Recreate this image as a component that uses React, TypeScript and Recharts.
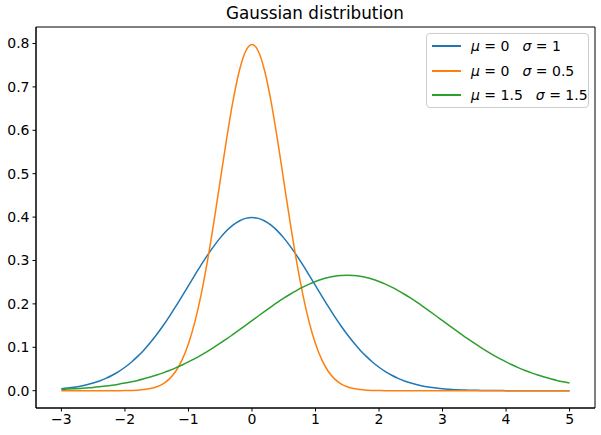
import { LineChart, Line, XAxis, YAxis, ReferenceArea } from "recharts";

// sample grid, every 0.1 from -3 to 5
const xs = Array.from({ length: 81 }, (_, i) => Math.round((-3 + i * 0.1) * 10) / 10);

// mu = 0, sigma = 1
const standard = [
  0.0044, 0.0060, 0.0079, 0.0104, 0.0136, 0.0175, 0.0224, 0.0283, 0.0355, 0.0440,
  0.0540, 0.0656, 0.0790, 0.0940, 0.1109, 0.1295, 0.1497, 0.1714, 0.1942, 0.2179,
  0.2420, 0.2661, 0.2897, 0.3123, 0.3332, 0.3521, 0.3683, 0.3814, 0.3910, 0.3970,
  0.3989,
  0.3970, 0.3910, 0.3814, 0.3683, 0.3521, 0.3332, 0.3123, 0.2897, 0.2661, 0.2420,
  0.2179, 0.1942, 0.1714, 0.1497, 0.1295, 0.1109, 0.0940, 0.0790, 0.0656, 0.0540,
  0.0440, 0.0355, 0.0283, 0.0224, 0.0175, 0.0136, 0.0104, 0.0079, 0.0060, 0.0044,
  0.0033, 0.0024, 0.0017, 0.0012, 0.0009, 0.0006, 0.0004, 0.0003, 0.0002, 0.0001,
  0.0001, 0.0001, 0, 0, 0, 0, 0, 0, 0, 0,
];

// mu = 0, sigma = 0.5
const narrow = [
  0, 0, 0, 0, 0, 0, 0, 0, 0, 0.0001,
  0.0003, 0.0006, 0.0012, 0.0025, 0.0048, 0.0089, 0.0158, 0.0272, 0.0448, 0.0709,
  0.1080, 0.1579, 0.2218, 0.2995, 0.3884, 0.4839, 0.5794, 0.6664, 0.7365, 0.7821,
  0.7979,
  0.7821, 0.7365, 0.6664, 0.5794, 0.4839, 0.3884, 0.2995, 0.2218, 0.1579, 0.1080,
  0.0709, 0.0448, 0.0272, 0.0158, 0.0089, 0.0048, 0.0025, 0.0012, 0.0006, 0.0003,
  0.0001, 0.0001, 0, 0, 0, 0, 0, 0, 0, 0,
  0, 0, 0, 0, 0, 0, 0, 0, 0, 0,
  0, 0, 0, 0, 0, 0, 0, 0, 0, 0,
];

// mu = 1.5, sigma = 1.5
const shifted = [
  0.0030, 0.0036, 0.0044, 0.0053, 0.0064, 0.0076, 0.0091, 0.0107, 0.0127, 0.0149,
  0.0175, 0.0204, 0.0236, 0.0273, 0.0314, 0.0360, 0.0410, 0.0466, 0.0526, 0.0592,
  0.0663, 0.0739, 0.0821, 0.0907, 0.0998, 0.1093, 0.1192, 0.1295, 0.1399, 0.1506,
  0.1613, 0.1721, 0.1827, 0.1931, 0.2033, 0.2130, 0.2222, 0.2307, 0.2385, 0.2455,
  0.2516, 0.2567, 0.2607, 0.2636, 0.2654, 0.2660, 0.2654, 0.2636, 0.2607, 0.2567,
  0.2516, 0.2455, 0.2385, 0.2307, 0.2222, 0.2130, 0.2033, 0.1931, 0.1827, 0.1721,
  0.1613, 0.1506, 0.1399, 0.1295, 0.1192, 0.1093, 0.0998, 0.0907, 0.0821, 0.0739,
  0.0663, 0.0592, 0.0526, 0.0466, 0.0410, 0.0360, 0.0314, 0.0273, 0.0236, 0.0204,
  0.0175,
];

const xTicks = [-3, -2, -1, 0, 1, 2, 3, 4, 5];
const yTicks = [0, 0.1, 0.2, 0.3, 0.4, 0.5, 0.6, 0.7, 0.8];
const xDomain = [-3.4, 5.4];
const yDomain = [-0.0399, 0.838];

const series = [
  { key: "standard", color: "#1f77b4", mu: "0", sigma: "1" },
  { key: "narrow", color: "#ff7f0e", mu: "0", sigma: "0.5" },
  { key: "shifted", color: "#2ca02c", mu: "1.5", sigma: "1.5" },
];

const data = xs.map((x, i) => ({
  x,
  standard: standard[i],
  narrow: narrow[i],
  shifted: shifted[i],
}));

const font = "'DejaVu Sans', sans-serif";
const tickStyle = { fill: "#000", fontSize: 14, fontFamily: font };
const fmtX = (v: number) => (v < 0 ? "\u2212" + Math.abs(v) : String(v));

function LegendBox() {
  return (
    <div
      style={{
        position: "absolute",
        left: 426,
        top: 33,
        width: 161,
        height: 73,
        border: "1px solid #cccccc",
        borderRadius: 4,
        background: "rgba(255,255,255,0.8)",
        fontFamily: font,
        fontSize: 14,
        color: "#000",
      }}
    >
      {series.map((s, i) => (
        <div
          key={s.key}
          style={{ position: "absolute", left: 5, top: 3 + i * 24.5, height: 18, display: "flex", alignItems: "center" }}
        >
          <span style={{ display: "inline-block", width: 29, height: 2, background: s.color, marginRight: 10 }} />
          <span style={{ whiteSpace: "pre" }}>
            <i>μ</i>
            {" = " + s.mu}
            <span style={{ display: "inline-block", width: 13 }} />
            <i>σ</i>
            {" = " + s.sigma}
          </span>
        </div>
      ))}
    </div>
  );
}

export default function App() {
  return (
    <div style={{ position: "absolute", left: 0, top: 0, width: 601, height: 435, background: "#fff" }}>
      <div
        style={{
          position: "absolute",
          left: 35,
          width: 560,
          top: 3,
          textAlign: "center",
          fontFamily: font,
          fontSize: 16.8,
          color: "#000",
        }}
      >
        Gaussian distribution
      </div>
      <LineChart width={601} height={435} data={data} margin={{ top: 27, right: 6, bottom: 0, left: 0 }}>
        <XAxis
          dataKey="x"
          type="number"
          domain={xDomain}
          ticks={xTicks}
          interval={0}
          allowDataOverflow
          tickFormatter={fmtX}
          tick={tickStyle}
          tickSize={3.5}
          tickMargin={3}
          height={27}
          stroke="#000"
        />
        <YAxis
          type="number"
          domain={yDomain}
          ticks={yTicks}
          interval={0}
          allowDataOverflow
          tickFormatter={(v: number) => v.toFixed(1)}
          tick={tickStyle}
          tickSize={3.5}
          tickMargin={3}
          width={36}
          stroke="#000"
        />
        {/* plot frame (all four spines) */}
        <ReferenceArea
          x1={xDomain[0]}
          x2={xDomain[1]}
          y1={yDomain[0]}
          y2={yDomain[1]}
          fill="none"
          stroke="#000"
          strokeWidth={1}
          ifOverflow="visible"
        />
        {series.map((s) => (
          <Line
            key={s.key}
            type="monotone"
            dataKey={s.key}
            stroke={s.color}
            strokeWidth={1.5}
            dot={false}
            activeDot={false}
            isAnimationActive={false}
          />
        ))}
      </LineChart>
      <LegendBox />
    </div>
  );
}
